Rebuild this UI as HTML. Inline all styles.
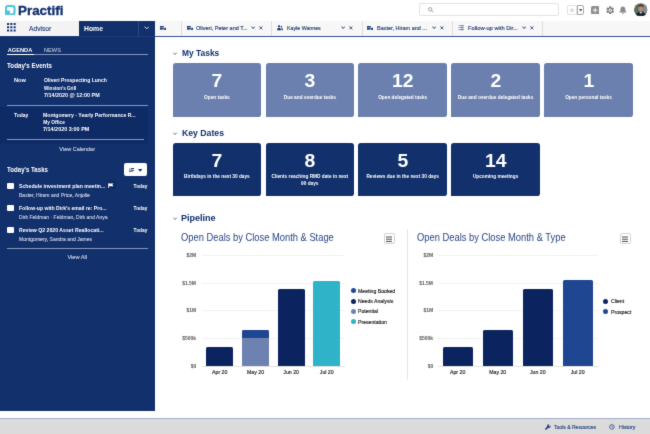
<!DOCTYPE html>
<html><head><meta charset="utf-8"><title>Practifi</title>
<style>
*{box-sizing:border-box;margin:0;padding:0}
html,body{width:650px;height:434px;overflow:hidden;background:#fff;font-family:"Liberation Sans",sans-serif;}
body{position:relative}
#w{position:absolute;left:0;top:0;width:650px;height:434px;will-change:transform;background:#fff;filter:url(#sf)}
.a{position:absolute;white-space:nowrap;line-height:1;display:block}
</style></head><body><svg width="0" height="0" style="position:absolute"><defs><filter id="sf" x="0" y="0" width="100%" height="100%" color-interpolation-filters="sRGB"><feConvolveMatrix order="3" kernelMatrix="0.015 0.075 0.015 0.075 0.64 0.075 0.015 0.075 0.015" edgeMode="duplicate" preserveAlpha="true"/></filter></defs></svg><div id="w">
<svg class="a" style="left:5.1px;top:4.9px" width="10.6" height="10.6" viewBox="0 0 10.6 10.6"><path d="M3 0h4.600a3 3 0 0 1 3 3v4.600a3 3 0 0 1-3 3H0.600a0.600 0.600 0 0 1-.600-.600V3a3 3 0 0 1 3-3z" fill="#4cc6da"/><rect x="1.900" y="1.900" width="6.600" height="6.600" rx="1.500" fill="#fff"/><path d="M0.800 5.500h4.100v4.300H0.800z" fill="#4cc6da"/></svg>
<div class="a" style="top:3px;font-size:13.7px;line-height:15px;height:15px;color:#11306c;font-weight:bold;left:18.20px;transform-origin:0 0;transform:scaleX(0.9775);-webkit-text-stroke:0.35px #11306c;">Practifi</div>
<div class="a" style="left:419px;top:3.4px;width:140.2px;height:13px;background:#fff;border:1px solid #e3e3e3;border-radius:2px;"></div>
<svg class="a" style="left:428.3px;top:7.2px" width="5.6" height="5.6" viewBox="0 0 10 10"><circle cx="4" cy="4" r="3" fill="none" stroke="#949494" stroke-width="1.6"/><path d="M6.3 6.3L9.4 9.4" stroke="#949494" stroke-width="1.6"/></svg>
<div class="a" style="left:567px;top:5.2px;width:10.3px;height:10px;background:#fff;border:1px solid #e2e2e2;border-radius:2px 0 0 2px;"></div>
<svg class="a" style="left:569.3px;top:7.3px" width="6" height="6" viewBox="0 0 10 10"><path d="M5 0.6l1.4 2.9 3.1.4-2.3 2.2.6 3.2L5 7.8 2.2 9.3l.6-3.2L.5 3.9l3.1-.4z" fill="#dcdcdc"/></svg>
<div class="a" style="left:577px;top:5.2px;width:7.2px;height:10px;background:#fff;border:1px solid #a8a8a8;border-radius:0 2px 2px 0;"></div>
<svg class="a" style="left:578.8px;top:9.3px" width="3.6" height="2.4" viewBox="0 0 6 4"><path d="M0 0h6L3 4z" fill="#555"/></svg>
<svg class="a" style="left:591px;top:6px" width="8.3" height="8.3" viewBox="0 0 10 10"><rect width="10" height="10" rx="2" fill="#8c8c8c"/><path d="M5 2v6M2 5h6" stroke="#fff" stroke-width="1.100"/></svg>
<svg class="a" style="left:605.6px;top:6px" width="8.4" height="8.4" viewBox="-5 -5 10 10"><rect x="-1.300" y="-4.700" width="2.600" height="2.400" rx="0.4" transform="rotate(0)" fill="#7d7d7d"/><rect x="-1.300" y="-4.700" width="2.600" height="2.400" rx="0.4" transform="rotate(60)" fill="#7d7d7d"/><rect x="-1.300" y="-4.700" width="2.600" height="2.400" rx="0.4" transform="rotate(120)" fill="#7d7d7d"/><rect x="-1.300" y="-4.700" width="2.600" height="2.400" rx="0.4" transform="rotate(180)" fill="#7d7d7d"/><rect x="-1.300" y="-4.700" width="2.600" height="2.400" rx="0.4" transform="rotate(240)" fill="#7d7d7d"/><rect x="-1.300" y="-4.700" width="2.600" height="2.400" rx="0.4" transform="rotate(300)" fill="#7d7d7d"/><circle r="3.1" fill="#7d7d7d"/><circle r="1.9" fill="#fff"/><circle r="0.9" fill="#7d7d7d"/></svg>
<svg class="a" style="left:618.6px;top:6px" width="7.8" height="8.4" viewBox="0 0 10 11"><path d="M5 0.6c-2 0-3.1 1.5-3.1 3.4 0 2.4-.5 3-1.4 3.8v.8h9v-.8C8.600 7 8.100 6.400 8.100 4c0-1.900-1.100-3.400-3.100-3.400z" fill="#8a8a8a"/><path d="M3.800 9.300a1.200 1.200 0 0 0 2.400 0z" fill="#8a8a8a"/></svg>
<svg class="a" style="left:634.4px;top:2.5px" width="13.6" height="13.6" viewBox="0 0 20 20"><defs><clipPath id="av"><circle cx="10" cy="10" r="9.700"/></clipPath></defs><g clip-path="url(#av)"><rect width="20" height="20" fill="#5d6b5f"/><rect x="0" y="0" width="6.500" height="20" fill="#56705c"/><rect x="14" y="0" width="6" height="20" fill="#878d93"/><ellipse cx="10" cy="8.200" rx="3.600" ry="4.400" fill="#b98a76"/><path d="M6.300 6.500c.3-3 2-3.900 3.700-3.900s3.400.9 3.700 3.900c-1.200-1.500-2.400-1.900-3.700-1.900s-2.500.4-3.700 1.900z" fill="#3a2a22"/><path d="M1.500 20c.5-4.500 3.500-6.300 6-6.800l2.500 2 2.500-2c2.500.5 5.500 2.300 6 6.800z" fill="#1d2433"/><path d="M8.300 13.400l1.700 2.600 1.700-2.600z" fill="#e8e8ee"/></g></svg>
<div class="a" style="left:0px;top:20.6px;width:650px;height:15.9px;background:#f7f7f7;"></div>
<div class="a" style="left:0px;top:20.6px;width:79px;height:14.9px;background:#f3f3f3;"></div>
<svg class="a" style="left:7.2px;top:23.3px" width="9" height="9" viewBox="0 0 9 9"><rect x="0.00" y="0.00" width="2.1" height="2.1" rx="0.5" fill="#11306c"/><rect x="0.00" y="3.20" width="2.1" height="2.1" rx="0.5" fill="#11306c"/><rect x="0.00" y="6.40" width="2.1" height="2.1" rx="0.5" fill="#11306c"/><rect x="3.30" y="0.00" width="2.1" height="2.1" rx="0.5" fill="#11306c"/><rect x="3.30" y="3.20" width="2.1" height="2.1" rx="0.5" fill="#11306c"/><rect x="3.30" y="6.40" width="2.1" height="2.1" rx="0.5" fill="#11306c"/><rect x="6.60" y="0.00" width="2.1" height="2.1" rx="0.5" fill="#11306c"/><rect x="6.60" y="3.20" width="2.1" height="2.1" rx="0.5" fill="#11306c"/><rect x="6.60" y="6.40" width="2.1" height="2.1" rx="0.5" fill="#11306c"/></svg>
<div class="a" style="top:25px;font-size:6.8px;line-height:7px;height:7px;color:#2a4580;-webkit-text-stroke:0.15px;left:28.50px;transform-origin:0 0;transform:scaleX(0.9835);">Advisor</div>
<div class="a" style="left:79px;top:20.7px;width:76px;height:16.3px;background:#11306c;"></div>
<div class="a" style="left:138px;top:21px;width:0.7px;height:15px;background:#2c4882;"></div>
<div class="a" style="top:25px;font-size:6.9px;line-height:7px;height:7px;color:#fff;font-weight:bold;left:83.80px;transform-origin:0 0;transform:scaleX(0.9911);">Home</div>
<svg class="a" style="left:144px;top:26.3px" width="5.4" height="3.4" viewBox="0 0 10 6"><path d="M1 1l4 4 4-4" fill="none" stroke="#fff" stroke-width="1.7"/></svg>
<div class="a" style="left:0px;top:35.5px;width:155px;height:1.5px;background:#1d3b7b;"></div>
<div class="a" style="left:155px;top:35.6px;width:495px;height:1.2px;background:#34538f;"></div>
<svg class="a" style="left:160.3px;top:25.7px" width="6.2" height="4.8" viewBox="0 0 12.4 9.6"><path d="M0 0h7.600v2.500H0zM0 3.500h7.600v2.500H0zM0 7h7.600v2.600H0z" fill="#223f7c"/><path d="M1.200 0h1.600v9.600H1.200z" fill="#223f7c"/><path d="M8.400 3.600h4v6H8.400z" fill="#223f7c"/></svg>
<div class="a" style="left:181.1px;top:21px;width:0.8px;height:14.6px;background:#dedede;"></div>
<svg class="a" style="left:186.6px;top:25.7px" width="6.2" height="4.8" viewBox="0 0 12.4 9.6"><path d="M0 0h7.600v2.500H0zM0 3.500h7.600v2.500H0zM0 7h7.600v2.600H0z" fill="#223f7c"/><path d="M1.200 0h1.600v9.600H1.200z" fill="#223f7c"/><path d="M8.400 3.600h4v6H8.400z" fill="#223f7c"/></svg>
<div class="a" style="top:25px;font-size:5.4px;line-height:6px;height:6px;color:#25407c;-webkit-text-stroke:0.15px;left:196.30px;transform-origin:0 0;transform:scaleX(1.0275);">Oliveri, Peter and T...</div>
<svg class="a" style="left:250.9px;top:26.4px" width="4.4" height="3.3" viewBox="0 0 8 6"><path d="M0.900 1l3.100 3.600 3.100-3.600" fill="none" stroke="#1d3875" stroke-width="1.800"/></svg>
<svg class="a" style="left:259.25px;top:26.049999999999997px" width="3.7" height="3.7" viewBox="0 0 6 6"><path d="M0.600 0.600l4.800 4.800M5.400 0.600l-4.800 4.800" stroke="#1d3875" stroke-width="1.400"/></svg>
<div class="a" style="left:271.3px;top:21px;width:0.8px;height:14.6px;background:#dedede;"></div>
<svg class="a" style="left:277.2px;top:25.3px" width="6" height="5.4" viewBox="0 0 12 11"><circle cx="4" cy="2.800" r="2.300" fill="#11306c"/><path d="M0 10.500c0-3.200 1.800-4.500 4-4.500s4 1.300 4 4.500z" fill="#11306c"/><circle cx="9" cy="3.600" r="1.700" fill="#11306c"/><path d="M8.600 6.300c2 0 3.300 1.100 3.300 4.200H9.200c0-1.800-.2-3-.6-4.200z" fill="#11306c"/></svg>
<div class="a" style="top:25px;font-size:5.4px;line-height:6px;height:6px;color:#25407c;-webkit-text-stroke:0.15px;left:287.00px;transform-origin:0 0;transform:scaleX(0.9764);">Kayle Wannes</div>
<svg class="a" style="left:341.09999999999997px;top:26.4px" width="4.4" height="3.3" viewBox="0 0 8 6"><path d="M0.900 1l3.100 3.600 3.100-3.600" fill="none" stroke="#1d3875" stroke-width="1.800"/></svg>
<svg class="a" style="left:349.44999999999993px;top:26.049999999999997px" width="3.7" height="3.7" viewBox="0 0 6 6"><path d="M0.600 0.600l4.800 4.800M5.400 0.600l-4.800 4.800" stroke="#1d3875" stroke-width="1.400"/></svg>
<div class="a" style="left:361.70000000000005px;top:21px;width:0.8px;height:14.6px;background:#dedede;"></div>
<svg class="a" style="left:367.2px;top:25.7px" width="6.2" height="4.8" viewBox="0 0 12.4 9.6"><path d="M0 0h7.600v2.500H0zM0 3.500h7.600v2.500H0zM0 7h7.600v2.600H0z" fill="#223f7c"/><path d="M1.200 0h1.600v9.600H1.200z" fill="#223f7c"/><path d="M8.400 3.600h4v6H8.400z" fill="#223f7c"/></svg>
<div class="a" style="top:25px;font-size:5.4px;line-height:6px;height:6px;color:#25407c;-webkit-text-stroke:0.15px;left:376.90px;transform-origin:0 0;transform:scaleX(1.0159);">Baxter, Hiram and ...</div>
<svg class="a" style="left:431.50000000000006px;top:26.4px" width="4.4" height="3.3" viewBox="0 0 8 6"><path d="M0.900 1l3.100 3.600 3.100-3.600" fill="none" stroke="#1d3875" stroke-width="1.800"/></svg>
<svg class="a" style="left:439.85px;top:26.049999999999997px" width="3.7" height="3.7" viewBox="0 0 6 6"><path d="M0.600 0.600l4.800 4.800M5.400 0.600l-4.800 4.800" stroke="#1d3875" stroke-width="1.400"/></svg>
<div class="a" style="left:452.0px;top:21px;width:0.8px;height:14.6px;background:#dedede;"></div>
<svg class="a" style="left:458.08px;top:25.3px" width="6" height="5.4" viewBox="0 0 12 11"><path d="M4.500 1.500h7M4.500 5.500h7M4.500 9.500h7" stroke="#11306c" stroke-width="1.500"/><path d="M0.400 1.300l1 1 1.800-2M0.400 5.300l1 1 1.800-2M0.400 9.300l1 1 1.800-2" stroke="#11306c" stroke-width="0.9" fill="none"/></svg>
<div class="a" style="top:25px;font-size:5.4px;line-height:6px;height:6px;color:#25407c;-webkit-text-stroke:0.15px;left:468.00px;transform-origin:0 0;transform:scaleX(1.0613);">Follow-up with Dir...</div>
<svg class="a" style="left:521.8px;top:26.4px" width="4.4" height="3.3" viewBox="0 0 8 6"><path d="M0.900 1l3.100 3.600 3.100-3.600" fill="none" stroke="#1d3875" stroke-width="1.800"/></svg>
<svg class="a" style="left:530.15px;top:26.049999999999997px" width="3.7" height="3.7" viewBox="0 0 6 6"><path d="M0.600 0.600l4.800 4.800M5.400 0.600l-4.800 4.800" stroke="#1d3875" stroke-width="1.400"/></svg>
<div class="a" style="left:542.2px;top:21px;width:0.8px;height:14.6px;background:#dedede;"></div>
<div class="a" style="left:0px;top:36.5px;width:155px;height:374px;background:#11306c;"></div>
<div class="a" style="top:47px;font-size:5.7px;line-height:6px;height:6px;color:#fff;font-weight:bold;left:7.70px;transform-origin:0 0;">AGENDA</div>
<div class="a" style="top:47px;font-size:5.7px;line-height:6px;height:6px;color:#b3bdd5;-webkit-text-stroke:0.15px;left:43.80px;transform-origin:0 0;transform:scaleX(0.9941);">NEWS</div>
<div class="a" style="left:7px;top:54.3px;width:140.5px;height:0.6px;background:#8796ba;"></div>
<div class="a" style="left:7px;top:53.7px;width:26.5px;height:1.2px;background:#fff;"></div>
<div class="a" style="top:62px;font-size:6.6px;line-height:7px;height:7px;color:#fff;font-weight:bold;left:7.40px;transform-origin:0 0;transform:scaleX(0.9442);">Today&#x27;s Events</div>
<div class="a" style="top:77px;font-size:5.3px;line-height:6px;height:6px;color:#fff;font-weight:bold;left:13.50px;transform-origin:0 0;transform:scaleX(1.0637);">Now</div>
<div class="a" style="top:77px;font-size:5.3px;line-height:6px;height:6px;color:#fff;font-weight:bold;left:43.50px;transform-origin:0 0;transform:scaleX(0.9520);">Oliveri Prospecting Lunch</div>
<div class="a" style="top:86px;font-size:4.8px;line-height:5px;height:5px;color:#fff;font-weight:bold;left:43.50px;transform-origin:0 0;transform:scaleX(0.9574);">Winston&#x27;s Grill</div>
<div class="a" style="top:92px;font-size:5.0px;line-height:6px;height:6px;color:#fff;font-weight:bold;left:43.50px;transform-origin:0 0;transform:scaleX(1.0801);">7/14/2020 @ 12:00 PM</div>
<div class="a" style="left:7px;top:104.9px;width:140.5px;height:0.6px;background:#8796ba;"></div>
<div class="a" style="left:0px;top:106.5px;width:148px;height:37.3px;background:#0f2b66;"></div>
<div class="a" style="top:112px;font-size:5.3px;line-height:6px;height:6px;color:#fff;font-weight:bold;left:13.50px;transform-origin:0 0;transform:scaleX(0.9400);">Today</div>
<div class="a" style="top:112px;font-size:5.3px;line-height:6px;height:6px;color:#fff;font-weight:bold;left:43.30px;transform-origin:0 0;transform:scaleX(0.9694);">Montgomery - Yearly Performance R...</div>
<div class="a" style="top:120px;font-size:4.8px;line-height:5px;height:5px;color:#fff;font-weight:bold;left:43.30px;transform-origin:0 0;">My Office</div>
<div class="a" style="top:126px;font-size:5.0px;line-height:6px;height:6px;color:#fff;font-weight:bold;left:43.30px;transform-origin:0 0;transform:scaleX(1.0888);">7/14/2020 3:00 PM</div>
<div class="a" style="left:7px;top:139.2px;width:136.5px;height:0.6px;background:#8796ba;"></div>
<div class="a" style="top:146px;font-size:5.3px;line-height:6px;height:6px;color:#c3cbe0;-webkit-text-stroke:0.15px;left:59.81px;transform-origin:50% 0;transform:scaleX(1.0387);">View Calendar</div>
<div class="a" style="top:166px;font-size:6.6px;line-height:7px;height:7px;color:#fff;font-weight:bold;left:7.40px;transform-origin:0 0;transform:scaleX(0.9268);">Today&#x27;s Tasks</div>
<div class="a" style="left:124.4px;top:163.3px;width:22.4px;height:12.6px;background:#fff;border-radius:2px;"></div>
<svg class="a" style="left:128.6px;top:167.6px" width="5.8" height="4.8" viewBox="0 0 11.6 9.6"><path d="M4 1.200h7.600M4 4.600h5.600M4 8h3.600" stroke="#11306c" stroke-width="2"/><path d="M1.800 0.500v8M0.200 6.200l1.600 2.300 1.600-2.300" stroke="#11306c" stroke-width="1.400" fill="none"/></svg>
<svg class="a" style="left:138.1px;top:168.7px" width="4.4" height="2.9" viewBox="0 0 8 5"><path d="M0 0h8L4 5z" fill="#11306c"/></svg>
<div class="a" style="left:7.4px;top:182.5px;width:6.3px;height:6.3px;background:#fff;border-radius:1px;"></div>
<div class="a" style="top:183px;font-size:5.3px;line-height:6px;height:6px;color:#fff;font-weight:bold;left:19.00px;transform-origin:0 0;transform:scaleX(0.9779);">Schedule investment plan meetin...</div>
<div class="a" style="top:183px;font-size:5.0px;line-height:6px;height:6px;color:#fff;font-weight:bold;left:132.65px;transform-origin:100% 0;transform:scaleX(0.9616);">Today</div>
<div class="a" style="top:192px;font-size:5.0px;line-height:6px;height:6px;color:#c3cbe0;-webkit-text-stroke:0.15px;left:19.00px;transform-origin:0 0;transform:scaleX(1.0084);">Baxter, Hiram and Price, Anjolie</div>
<div class="a" style="left:7.4px;top:205.2px;width:6.3px;height:6.3px;background:#fff;border-radius:1px;"></div>
<div class="a" style="top:205px;font-size:5.3px;line-height:6px;height:6px;color:#fff;font-weight:bold;left:19.00px;transform-origin:0 0;transform:scaleX(0.9619);">Follow-up with Dirk&#x27;s email re: Pro...</div>
<div class="a" style="top:205px;font-size:5.0px;line-height:6px;height:6px;color:#fff;font-weight:bold;left:132.65px;transform-origin:100% 0;transform:scaleX(0.9616);">Today</div>
<div class="a" style="top:214px;font-size:5.0px;line-height:6px;height:6px;color:#c3cbe0;-webkit-text-stroke:0.15px;left:19.00px;transform-origin:0 0;transform:scaleX(1.0123);">Dirk Feldman · Feldman, Dirk and Anya</div>
<div class="a" style="left:7.4px;top:227.1px;width:6.3px;height:6.3px;background:#fff;border-radius:1px;"></div>
<div class="a" style="top:227px;font-size:5.3px;line-height:6px;height:6px;color:#fff;font-weight:bold;left:19.00px;transform-origin:0 0;transform:scaleX(0.9769);">Review Q2 2020 Asset Reallocati...</div>
<div class="a" style="top:227px;font-size:5.0px;line-height:6px;height:6px;color:#fff;font-weight:bold;left:132.65px;transform-origin:100% 0;transform:scaleX(0.9616);">Today</div>
<div class="a" style="top:236px;font-size:5.0px;line-height:6px;height:6px;color:#c3cbe0;-webkit-text-stroke:0.15px;left:19.00px;transform-origin:0 0;transform:scaleX(1.0130);">Montgomery, Sandra and James</div>
<div class="a" style="left:106.8px;top:180.4px;width:9px;height:9.1px;background:#0e2a64;"></div>
<svg class="a" style="left:108.4px;top:182.8px" width="5.8" height="5.4" viewBox="0 0 11.6 10.8"><path d="M1 0.500v10" stroke="#fff" stroke-width="1.600"/><path d="M2 0.800h9l-2.300 2.900L11 6.600H2z" fill="#fff"/></svg>
<div class="a" style="left:7px;top:248.1px;width:140.5px;height:0.6px;background:#8796ba;"></div>
<div class="a" style="top:254px;font-size:5.3px;line-height:6px;height:6px;color:#c3cbe0;-webkit-text-stroke:0.15px;left:67.77px;transform-origin:50% 0;transform:scaleX(1.0670);">View All</div>
<svg class="a" style="left:173.4px;top:52.1px" width="4.2" height="3.4" viewBox="0 0 8 6"><path d="M0.800 1l3.200 3.600 3.200-3.600" fill="none" stroke="#3f5079" stroke-width="1.500"/></svg>
<div class="a" style="top:48px;font-size:8.8px;line-height:10px;height:10px;color:#11306c;font-weight:bold;left:181.50px;transform-origin:0 0;transform:scaleX(0.9573);">My Tasks</div>
<svg class="a" style="left:173.4px;top:132.1px" width="4.2" height="3.4" viewBox="0 0 8 6"><path d="M0.800 1l3.200 3.600 3.200-3.600" fill="none" stroke="#3f5079" stroke-width="1.500"/></svg>
<div class="a" style="top:128px;font-size:8.8px;line-height:10px;height:10px;color:#11306c;font-weight:bold;left:181.50px;transform-origin:0 0;transform:scaleX(0.9870);">Key Dates</div>
<svg class="a" style="left:173.4px;top:217.1px" width="4.2" height="3.4" viewBox="0 0 8 6"><path d="M0.800 1l3.200 3.600 3.200-3.600" fill="none" stroke="#3f5079" stroke-width="1.500"/></svg>
<div class="a" style="top:213px;font-size:8.8px;line-height:10px;height:10px;color:#11306c;font-weight:bold;left:180.60px;transform-origin:0 0;transform:scaleX(1.0255);">Pipeline</div>
<div class="a" style="left:172.6px;top:63px;width:88.5px;height:53.5px;background:#6b80ae;border-radius:2.8px 2.8px 2.8px 0;"></div>
<div class="a" style="top:71px;font-size:17.6px;line-height:20px;height:20px;color:#fff;font-weight:bold;left:212.01px;transform-origin:50% 0;transform:scaleX(1.1000);">7</div>
<div class="a" style="top:95px;font-size:4.75px;line-height:5px;height:5px;color:#fff;font-weight:bold;left:204.10px;transform-origin:50% 0;">Open tasks</div>
<div class="a" style="left:265.5px;top:63px;width:88.5px;height:53.5px;background:#6b80ae;border-radius:2.8px 2.8px 2.8px 0;"></div>
<div class="a" style="top:71px;font-size:17.6px;line-height:20px;height:20px;color:#fff;font-weight:bold;left:304.91px;transform-origin:50% 0;transform:scaleX(1.1000);">3</div>
<div class="a" style="top:95px;font-size:4.75px;line-height:5px;height:5px;color:#fff;font-weight:bold;left:283.80px;transform-origin:50% 0;">Due and overdue tasks</div>
<div class="a" style="left:358.4px;top:63px;width:88.5px;height:53.5px;background:#6b80ae;border-radius:2.8px 2.8px 2.8px 0;"></div>
<div class="a" style="top:71px;font-size:17.6px;line-height:20px;height:20px;color:#fff;font-weight:bold;left:392.91px;transform-origin:50% 0;transform:scaleX(1.1000);">12</div>
<div class="a" style="top:95px;font-size:4.75px;line-height:5px;height:5px;color:#fff;font-weight:bold;left:378.15px;transform-origin:50% 0;">Open delegated tasks</div>
<div class="a" style="left:451.3px;top:63px;width:88.5px;height:53.5px;background:#6b80ae;border-radius:2.8px 2.8px 2.8px 0;"></div>
<div class="a" style="top:71px;font-size:17.6px;line-height:20px;height:20px;color:#fff;font-weight:bold;left:490.71px;transform-origin:50% 0;transform:scaleX(1.1000);">2</div>
<div class="a" style="top:95px;font-size:4.75px;line-height:5px;height:5px;color:#fff;font-weight:bold;left:457.85px;transform-origin:50% 0;">Due and overdue delegated tasks</div>
<div class="a" style="left:544.2px;top:63px;width:88.5px;height:53.5px;background:#6b80ae;border-radius:2.8px 2.8px 2.8px 0;"></div>
<div class="a" style="top:71px;font-size:17.6px;line-height:20px;height:20px;color:#fff;font-weight:bold;left:583.61px;transform-origin:50% 0;transform:scaleX(1.1000);">1</div>
<div class="a" style="top:95px;font-size:4.75px;line-height:5px;height:5px;color:#fff;font-weight:bold;left:565.14px;transform-origin:50% 0;">Open personal tasks</div>
<div class="a" style="left:172.6px;top:142.8px;width:88.5px;height:53.5px;background:#11306c;border-radius:2.8px 2.8px 2.8px 0;"></div>
<div class="a" style="top:151px;font-size:17.6px;line-height:20px;height:20px;color:#fff;font-weight:bold;left:212.01px;transform-origin:50% 0;transform:scaleX(1.1000);">7</div>
<div class="a" style="top:174px;font-size:4.75px;line-height:5px;height:5px;color:#fff;font-weight:bold;left:184.04px;transform-origin:50% 0;">Birthdays in the next 30 days</div>
<div class="a" style="left:265.5px;top:142.8px;width:88.5px;height:53.5px;background:#11306c;border-radius:2.8px 2.8px 2.8px 0;"></div>
<div class="a" style="top:151px;font-size:17.6px;line-height:20px;height:20px;color:#fff;font-weight:bold;left:304.91px;transform-origin:50% 0;transform:scaleX(1.1000);">8</div>
<div class="a" style="top:174px;font-size:4.75px;line-height:5px;height:5px;color:#fff;font-weight:bold;left:271.40px;transform-origin:50% 0;">Clients reaching RMD date in next</div>
<div class="a" style="top:181px;font-size:4.75px;line-height:5px;height:5px;color:#fff;font-weight:bold;left:301.09px;transform-origin:50% 0;">90 days</div>
<div class="a" style="left:358.4px;top:142.8px;width:88.5px;height:53.5px;background:#11306c;border-radius:2.8px 2.8px 2.8px 0;"></div>
<div class="a" style="top:151px;font-size:17.6px;line-height:20px;height:20px;color:#fff;font-weight:bold;left:397.81px;transform-origin:50% 0;transform:scaleX(1.1000);">5</div>
<div class="a" style="top:174px;font-size:4.75px;line-height:5px;height:5px;color:#fff;font-weight:bold;left:366.40px;transform-origin:50% 0;">Reviews due in the next 30 days</div>
<div class="a" style="left:451.3px;top:142.8px;width:88.5px;height:53.5px;background:#11306c;border-radius:2.8px 2.8px 2.8px 0;"></div>
<div class="a" style="top:151px;font-size:17.6px;line-height:20px;height:20px;color:#fff;font-weight:bold;left:485.81px;transform-origin:50% 0;transform:scaleX(1.1000);">14</div>
<div class="a" style="top:174px;font-size:4.75px;line-height:5px;height:5px;color:#fff;font-weight:bold;left:472.90px;transform-origin:50% 0;">Upcoming meetings</div>
<div class="a" style="top:232px;font-size:10.2px;line-height:11px;height:11px;color:#2a4682;left:181.20px;transform-origin:0 0;transform:scaleX(0.9179);">Open Deals by Close Month &amp; Stage</div>
<div class="a" style="left:383.6px;top:233.2px;width:11px;height:11px;background:#fff;border:1px solid #d2d2d2;border-radius:2px;"></div>
<svg class="a" style="left:386.0px;top:235.5px" width="6.2" height="6.4" viewBox="0 0 6.2 6.4"><path d="M0 1h6.200M0 3.200h6.200M0 5.400h6.200" stroke="#4a4a4a" stroke-width="1"/></svg>
<div class="a" style="left:201.5px;top:365.65px;width:143.0px;height:0.7px;background:#e2e2e2;"></div>
<div class="a" style="top:364px;font-size:4.7px;line-height:5px;height:5px;color:#555;font-weight:bold;left:190.77px;transform-origin:100% 0;transform:scaleX(1.0638);">$0</div>
<div class="a" style="left:201.5px;top:337.96999999999997px;width:143.0px;height:0.7px;background:#f1f1f1;"></div>
<div class="a" style="top:336px;font-size:4.7px;line-height:5px;height:5px;color:#555;font-weight:bold;left:182.93px;transform-origin:100% 0;transform:scaleX(1.0638);">$500k</div>
<div class="a" style="left:201.5px;top:310.28999999999996px;width:143.0px;height:0.7px;background:#f1f1f1;"></div>
<div class="a" style="top:308px;font-size:4.7px;line-height:5px;height:5px;color:#555;font-weight:bold;left:186.86px;transform-origin:100% 0;transform:scaleX(1.0638);">$1M</div>
<div class="a" style="left:201.5px;top:282.61px;width:143.0px;height:0.7px;background:#f1f1f1;"></div>
<div class="a" style="top:281px;font-size:4.7px;line-height:5px;height:5px;color:#555;font-weight:bold;left:182.94px;transform-origin:100% 0;transform:scaleX(1.0638);">$1.5M</div>
<div class="a" style="left:201.5px;top:254.93px;width:143.0px;height:0.7px;background:#f1f1f1;"></div>
<div class="a" style="top:253px;font-size:4.7px;line-height:5px;height:5px;color:#555;font-weight:bold;left:186.86px;transform-origin:100% 0;transform:scaleX(1.0638);">$2M</div>
<div class="a" style="left:206.3px;top:347px;width:26.899999999999977px;height:19px;background:#0b2460;border-radius:1.5px 1.5px 0 0;"></div>
<div class="a" style="top:369px;font-size:5.2px;line-height:6px;height:6px;color:#222;-webkit-text-stroke:0.15px;left:212.09px;transform-origin:50% 0;">Apr 20</div>
<div class="a" style="left:242px;top:330.2px;width:27.100000000000023px;height:35.80000000000001px;background:#6e82b2;border-radius:1.5px 1.5px 0 0;"></div>
<div class="a" style="left:242px;top:330.2px;width:27.100000000000023px;height:8.300000000000011px;background:#1f4690;border-radius:1.5px 1.5px 0 0;"></div>
<div class="a" style="top:369px;font-size:5.2px;line-height:6px;height:6px;color:#222;-webkit-text-stroke:0.15px;left:247.02px;transform-origin:50% 0;">May 20</div>
<div class="a" style="left:277.6px;top:288.9px;width:27.099999999999966px;height:77.10000000000002px;background:#0b2460;border-radius:1.5px 1.5px 0 0;"></div>
<div class="a" style="top:369px;font-size:5.2px;line-height:6px;height:6px;color:#222;-webkit-text-stroke:0.15px;left:283.34px;transform-origin:50% 0;">Jun 20</div>
<div class="a" style="left:313.2px;top:280.6px;width:27.100000000000023px;height:85.39999999999998px;background:#2fb3c8;border-radius:1.5px 1.5px 0 0;"></div>
<div class="a" style="top:369px;font-size:5.2px;line-height:6px;height:6px;color:#222;-webkit-text-stroke:0.15px;left:319.81px;transform-origin:50% 0;">Jul 20</div>
<div class="a" style="left:350.5px;top:288.4px;width:5px;height:5px;background:#1f4690;border-radius:50%;"></div>
<div class="a" style="top:288px;font-size:5.0px;line-height:6px;height:6px;color:#222;-webkit-text-stroke:0.15px;left:358.20px;transform-origin:0 0;transform:scaleX(1.0300);">Meeting Booked</div>
<div class="a" style="left:350.5px;top:298.75px;width:5px;height:5px;background:#0b2460;border-radius:50%;"></div>
<div class="a" style="top:298px;font-size:5.0px;line-height:6px;height:6px;color:#222;-webkit-text-stroke:0.15px;left:358.20px;transform-origin:0 0;transform:scaleX(1.0300);">Needs Analysis</div>
<div class="a" style="left:350.5px;top:309.09999999999997px;width:5px;height:5px;background:#6e82b2;border-radius:50%;"></div>
<div class="a" style="top:308px;font-size:5.0px;line-height:6px;height:6px;color:#222;-webkit-text-stroke:0.15px;left:358.20px;transform-origin:0 0;transform:scaleX(1.0300);">Potential</div>
<div class="a" style="left:350.5px;top:319.45px;width:5px;height:5px;background:#2fb3c8;border-radius:50%;"></div>
<div class="a" style="top:319px;font-size:5.0px;line-height:6px;height:6px;color:#222;-webkit-text-stroke:0.15px;left:358.20px;transform-origin:0 0;transform:scaleX(1.0300);">Presentation</div>
<div class="a" style="left:406.6px;top:229px;width:0.8px;height:151px;background:#e6e6e6;"></div>
<div class="a" style="top:232px;font-size:10.2px;line-height:11px;height:11px;color:#2a4682;left:417.40px;transform-origin:0 0;transform:scaleX(0.9188);">Open Deals by Close Month &amp; Type</div>
<div class="a" style="left:619.5px;top:233.2px;width:11px;height:11px;background:#fff;border:1px solid #d2d2d2;border-radius:2px;"></div>
<svg class="a" style="left:621.9px;top:235.5px" width="6.2" height="6.4" viewBox="0 0 6.2 6.4"><path d="M0 1h6.200M0 3.200h6.200M0 5.400h6.200" stroke="#4a4a4a" stroke-width="1"/></svg>
<div class="a" style="left:437.7px;top:365.65px;width:160.59999999999997px;height:0.7px;background:#e2e2e2;"></div>
<div class="a" style="top:364px;font-size:4.7px;line-height:5px;height:5px;color:#555;font-weight:bold;left:427.67px;transform-origin:100% 0;transform:scaleX(1.0638);">$0</div>
<div class="a" style="left:437.7px;top:337.96999999999997px;width:160.59999999999997px;height:0.7px;background:#f1f1f1;"></div>
<div class="a" style="top:336px;font-size:4.7px;line-height:5px;height:5px;color:#555;font-weight:bold;left:419.83px;transform-origin:100% 0;transform:scaleX(1.0638);">$500k</div>
<div class="a" style="left:437.7px;top:310.28999999999996px;width:160.59999999999997px;height:0.7px;background:#f1f1f1;"></div>
<div class="a" style="top:308px;font-size:4.7px;line-height:5px;height:5px;color:#555;font-weight:bold;left:423.76px;transform-origin:100% 0;transform:scaleX(1.0638);">$1M</div>
<div class="a" style="left:437.7px;top:282.61px;width:160.59999999999997px;height:0.7px;background:#f1f1f1;"></div>
<div class="a" style="top:281px;font-size:4.7px;line-height:5px;height:5px;color:#555;font-weight:bold;left:419.84px;transform-origin:100% 0;transform:scaleX(1.0638);">$1.5M</div>
<div class="a" style="left:437.7px;top:254.93px;width:160.59999999999997px;height:0.7px;background:#f1f1f1;"></div>
<div class="a" style="top:253px;font-size:4.7px;line-height:5px;height:5px;color:#555;font-weight:bold;left:423.76px;transform-origin:100% 0;transform:scaleX(1.0638);">$2M</div>
<div class="a" style="left:442.5px;top:346.9px;width:30.30000000000001px;height:19.100000000000023px;background:#0b2460;border-radius:1.5px 1.5px 0 0;"></div>
<div class="a" style="top:369px;font-size:5.2px;line-height:6px;height:6px;color:#222;-webkit-text-stroke:0.15px;left:449.99px;transform-origin:50% 0;">Apr 20</div>
<div class="a" style="left:482.7px;top:330.2px;width:30.099999999999966px;height:35.80000000000001px;background:#0b2460;border-radius:1.5px 1.5px 0 0;"></div>
<div class="a" style="top:369px;font-size:5.2px;line-height:6px;height:6px;color:#222;-webkit-text-stroke:0.15px;left:489.22px;transform-origin:50% 0;">May 20</div>
<div class="a" style="left:522.6px;top:288.9px;width:30.299999999999955px;height:77.10000000000002px;background:#0b2460;border-radius:1.5px 1.5px 0 0;"></div>
<div class="a" style="top:369px;font-size:5.2px;line-height:6px;height:6px;color:#222;-webkit-text-stroke:0.15px;left:529.94px;transform-origin:50% 0;">Jun 20</div>
<div class="a" style="left:562.5px;top:280.4px;width:30.299999999999955px;height:85.60000000000002px;background:#1f4690;border-radius:1.5px 1.5px 0 0;"></div>
<div class="a" style="top:369px;font-size:5.2px;line-height:6px;height:6px;color:#222;-webkit-text-stroke:0.15px;left:570.71px;transform-origin:50% 0;">Jul 20</div>
<div class="a" style="left:603.2px;top:298.9px;width:5px;height:5px;background:#0b2460;border-radius:50%;"></div>
<div class="a" style="top:298px;font-size:5.0px;line-height:6px;height:6px;color:#222;-webkit-text-stroke:0.15px;left:610.90px;transform-origin:0 0;transform:scaleX(1.0300);">Client</div>
<div class="a" style="left:603.2px;top:309.25px;width:5px;height:5px;background:#1f4690;border-radius:50%;"></div>
<div class="a" style="top:309px;font-size:5.0px;line-height:6px;height:6px;color:#222;-webkit-text-stroke:0.15px;left:610.90px;transform-origin:0 0;transform:scaleX(1.0300);">Prospect</div>
<div class="a" style="left:0px;top:418px;width:650px;height:16px;background:#dbdbdb;border-top:1px solid #a2afcb;"></div>
<svg class="a" style="left:544.8px;top:424px" width="6" height="6" viewBox="0 0 10 10"><path d="M9.600 2.400L7.900 4.100 5.900 2.100 7.600 0.400C6.400 0 5 0.300 4.100 1.200 3.200 2.100 2.900 3.400 3.300 4.600L0.400 7.500c-.5.500-.5 1.400 0 1.900.500.500 1.400.500 1.900 0L5.200 6.500c1.200.400 2.500.100 3.400-.800.900-.900 1.200-2.200 1-3.300z" fill="#2a4580"/></svg>
<div class="a" style="top:424px;font-size:5.3px;line-height:6px;height:6px;color:#2a4580;-webkit-text-stroke:0.15px;left:554.00px;transform-origin:0 0;transform:scaleX(0.9528);">Tools &amp; Resources</div>
<svg class="a" style="left:609.3px;top:424.1px" width="5.8" height="5.8" viewBox="0 0 10 10"><circle cx="5" cy="5" r="4" fill="none" stroke="#2a4580" stroke-width="1.300"/><path d="M5 2.700V5.300h1.900" fill="none" stroke="#2a4580" stroke-width="1.100"/></svg>
<div class="a" style="top:424px;font-size:5.3px;line-height:6px;height:6px;color:#2a4580;-webkit-text-stroke:0.15px;left:618.80px;transform-origin:0 0;transform:scaleX(0.9946);">History</div>
</div></body></html>
